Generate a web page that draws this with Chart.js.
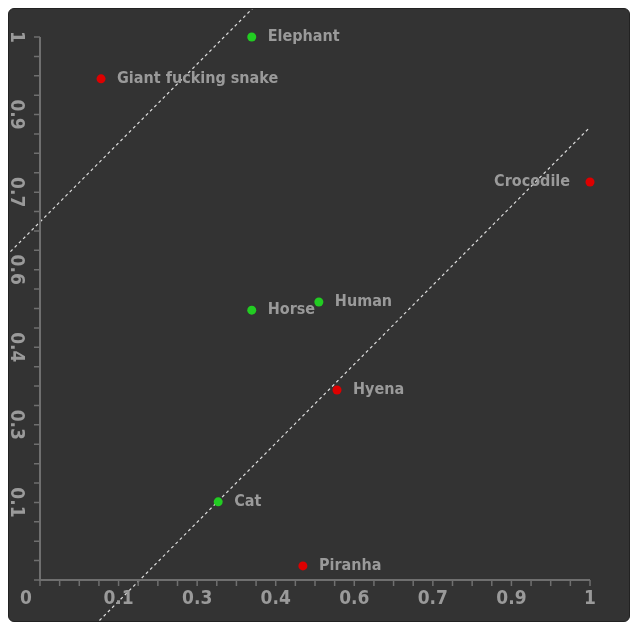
<!DOCTYPE html>
<html>
<head>
<script src="https://cdn.jsdelivr.net/npm/chart.js@4"></script>
<style>
  body { margin: 0; background: #fff; }
  #box { position: absolute; left: 8px; top: 8px; width: 622px; height: 614px; background: #333; border-radius: 6px; border: 1px solid #222; box-sizing: border-box; }
  canvas { display: block; }
</style>
</head>
<body>
<div id="box"><canvas id="c" width="620" height="612"></canvas></div>
<script>
  // Tiere und Werte
  const names = ['Elephant', 'Giant fucking snake', 'Crocodile', 'Horse', 'Human', 'Hyena', 'Cat', 'Piranha'];
  const xs = [0.385, 0.111, 1.0, 0.385, 0.507, 0.54, 0.324, 0.478];
  const ys = [1.0, 0.923, 0.733, 0.497, 0.512, 0.35, 0.144, 0.026];
  const colors = ['#22cc22', '#dd0000', '#dd0000', '#22cc22', '#22cc22', '#dd0000', '#22cc22', '#dd0000'];
  const lowerLine = [{ x: -0.015, y: -0.2 }, { x: 1.0, y: 0.834 }];
  const upperLine = [{ x: -0.2, y: 0.456 }, { x: 0.6, y: 1.27 }];
  const tickSteps = 28;

  const axisColor = '#6f6f6f';
  const textColor = '#9a9a9a';

  const axesPlugin = {
    id: 'axes',
    afterDatasetsDraw(chart) {
      const { ctx, chartArea: a, scales: { x, y } } = chart;
      ctx.save();
      ctx.strokeStyle = axisColor;
      ctx.lineWidth = 2;
      ctx.beginPath();
      ctx.moveTo(a.left, a.top); ctx.lineTo(a.left, a.bottom); ctx.lineTo(a.right, a.bottom);
      ctx.stroke();
      ctx.lineWidth = 1.5;
      ctx.font = 'bold 19px "DejaVu Sans Condensed", "Liberation Sans Narrow", sans-serif';
      ctx.fillStyle = textColor;
      for (let i = 0; i <= tickSteps; i++) {
        const v = i / tickSteps;
        const px = x.getPixelForValue(v), py = y.getPixelForValue(v);
        ctx.beginPath();
        ctx.moveTo(px, a.bottom); ctx.lineTo(px, a.bottom + 6);
        ctx.moveTo(a.left, py); ctx.lineTo(a.left - 6, py);
        ctx.stroke();
        if (i % 4 === 0) {
          const lab = String(Math.round(v * 10) / 10);
          ctx.textAlign = 'center'; ctx.textBaseline = 'top';
          if (i === 0) ctx.fillText(lab, a.left - 14, a.bottom + 10);
          else ctx.fillText(lab, px, a.bottom + 10);
          if (i > 0) {
            ctx.save();
            ctx.translate(a.left - 24, py);
            ctx.rotate(Math.PI / 2);
            ctx.textBaseline = 'middle';
            ctx.fillText(lab, 0, 0);
            ctx.restore();
          }
        }
      }
      ctx.font = 'bold 16px "DejaVu Sans Condensed", sans-serif';
      ctx.textBaseline = 'middle';
      names.forEach((n, i) => {
        const px = x.getPixelForValue(xs[i]), py = y.getPixelForValue(ys[i]);
        if (n === 'Crocodile') { ctx.textAlign = 'right'; ctx.fillText(n, px - 20, py); }
        else { ctx.textAlign = 'left'; ctx.fillText(n, px + 16, py); }
      });
      ctx.restore();
    }
  };

  new Chart(document.getElementById('c'), {
    type: 'scatter',
    data: {
      datasets: [
        { data: xs.map((v, i) => ({ x: v, y: ys[i] })), pointBackgroundColor: colors, pointBorderWidth: 0, pointRadius: 4.5, clip: false },
        { type: 'line', data: lowerLine, borderColor: '#ddd', borderWidth: 1.2, borderDash: [3, 3], pointRadius: 0, clip: false },
        { type: 'line', data: upperLine, borderColor: '#ddd', borderWidth: 1.2, borderDash: [3, 3], pointRadius: 0, clip: false }
      ]
    },
    options: {
      responsive: false,
      animation: false,
      layout: { padding: { left: 31, top: 28, right: 39, bottom: 41 } },
      plugins: { legend: { display: false }, tooltip: { enabled: false } },
      scales: {
        x: { type: 'linear', min: 0, max: 1, display: false },
        y: { type: 'linear', min: 0, max: 1, display: false }
      }
    },
    plugins: [axesPlugin]
  });
</script>
</body>
</html>
